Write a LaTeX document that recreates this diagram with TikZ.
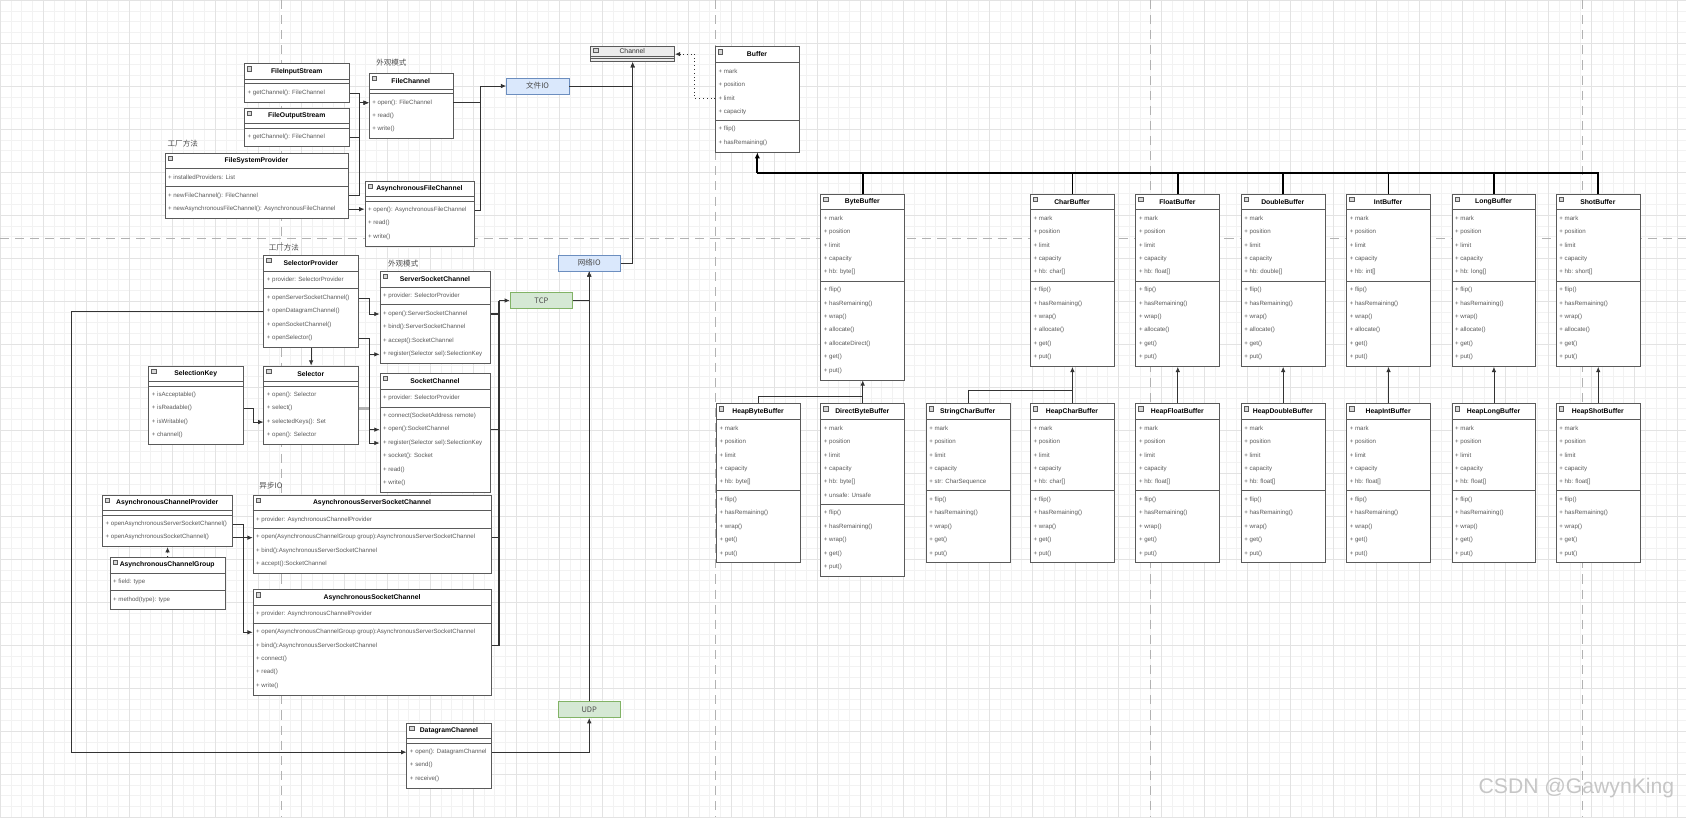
\documentclass[tikz,border=0pt]{standalone}
\usepackage{fontspec}
\setmainfont{Liberation Sans}
\newfontfamily\cjk{Noto Sans CJK SC}
\usetikzlibrary{arrows.meta,calc}
\definecolor{bdr}{RGB}{90,90,90}
\definecolor{blueF}{RGB}{218,232,252}\definecolor{blueD}{RGB}{108,142,191}
\definecolor{greenF}{RGB}{213,232,212}\definecolor{greenD}{RGB}{130,179,102}
\tikzset{
 box/.style={draw=bdr,fill=white,line width=0.5pt,inner sep=0},
 ttl/.style={font=\fontsize{4.5}{5}\selectfont\bfseries,text=black,inner sep=0},
 itm/.style={font=\fontsize{4.05}{5}\selectfont,text=black!65,inner sep=0,anchor=west},
 conn/.style={draw=black!80,line width=0.5pt,-{Latex[length=3.5pt,width=3pt]}},
 ln/.style={draw=black!80,line width=0.5pt},
 inh/.style={draw=black,line width=1.2pt},
 sep/.style={draw=gray!60,dashed,line width=0.6pt,dash pattern=on 6pt off 4pt},
 lbl/.style={font=\cjk\fontsize{5}{6}\selectfont,text=black!70,inner sep=0},
 io/.style={draw=blueD,fill=blueF,minimum width=58*0.25mm,minimum height=15*0.25mm,inner sep=0,font=\cjk\fontsize{5}{6}\selectfont,text=black!70},
 iog/.style={io,draw=greenD,fill=greenF},
}
\def\RH{12.5}
% name, x, y, w, title, nA, attrs, nM, methods
\newcommand\umlbox[9]{%
 \pgfmathsetmacro\yA{#3+15}%
 \pgfmathsetmacro\yB{\yA+4+#6*\RH}%
 \pgfmathsetmacro\yC{\yB+4+#8*\RH}%
 \pgfmathsetmacro\bw{#4*0.25}%
 \pgfmathsetmacro\bh{(\yC-#3)*0.25}%
 \node[box,minimum width=\bw mm,minimum height=\bh mm,anchor=north west] (#1) at (#2,#3) {};
 \draw[bdr,line width=0.5pt] (#2,\yA) -- ++(#4,0) (#2,\yB) -- ++(#4,0);
 \draw[bdr,line width=0.3pt,fill=gray!30] (#2+3,#3+3) rectangle ++(4,4);
 \node[ttl] at (#2+#4/2,#3+7.5) {#5};
 \ifnum#6>0
 \foreach[count=\i] \t in {#7}{%
   \pgfmathsetmacro\yy{\yA+2+(\i-1)*\RH}%
   \node[inner sep=0,minimum width=\bw mm,minimum height=\RH*0.25mm,anchor=north west] (#1-a\i) at (#2,\yy) {};
   \node[itm] at (#2+3,\yy+\RH/2) {+ \t};}
 \fi
 \foreach[count=\i] \t in {#9}{%
   \pgfmathsetmacro\yy{\yB+2+(\i-1)*\RH}%
   \node[inner sep=0,minimum width=\bw mm,minimum height=\RH*0.25mm,anchor=north west] (#1-m\i) at (#2,\yy) {};
   \node[itm] at (#2+3,\yy+\RH/2) {+ \t};}
}
\begin{document}
\begin{tikzpicture}[x=0.25mm,y=-0.25mm]
\useasboundingbox (0,0) rectangle (1568,760);
\fill[white] (0,0) rectangle (1568,760);
\foreach \x in {0,10,...,1560}{\draw[gray!10,line width=0.3pt] (\x,0) -- (\x,760);}
\foreach \y in {0,10,...,760}{\draw[gray!10,line width=0.3pt] (0,\y) -- (1568,\y);}
\foreach \x in {0,40,...,1560}{\draw[gray!22,line width=0.4pt] (\x,0) -- (\x,760);}
\foreach \y in {0,40,...,760}{\draw[gray!22,line width=0.4pt] (0,\y) -- (1568,\y);}
\foreach \x in {262,665,1070,1472}{\draw[sep] (\x,0) -- (\x,760);}
\draw[sep] (0,222) -- (1568,222);

% Channel
\node[box,fill=gray!15,minimum width=78*0.25mm,minimum height=14*0.25mm,anchor=north west] (channel) at (549,43) {};
\draw[bdr,line width=0.4pt] (549,52) -- (627,52) (549,54.5) -- (627,54.5);
\draw[bdr,line width=0.3pt,fill=gray!30] (552,45) rectangle ++(4,4);
\node[ttl,font=\fontsize{4.5}{5}\selectfont,text=black!80] at (588,47.5) {Channel};

\umlbox{Buf}{665}{43}{78}{Buffer}{4}{mark,position,limit,capacity}{2}{flip(),hasRemaining()}

\umlbox{FIS}{227}{59}{98}{FileInputStream}{0}{}{1}{getChannel(): FileChannel}
\umlbox{FOS}{227}{100}{98}{FileOutputStream}{0}{}{1}{getChannel(): FileChannel}
\umlbox{FC}{343}{68}{78}{FileChannel}{0}{}{3}{open(): FileChannel,read(),write()}
\node[lbl] at (364,58) {外观模式};
\node[lbl] at (170,134) {工厂方法};
\umlbox{FSP}{153}{142}{171}{FileSystemProvider}{1}{installedProviders: List}{2}{newFileChannel(): FileChannel,newAsynchronousFileChannel(): AsynchronousFileChannel}
\umlbox{AFC}{339}{168}{102}{AsynchronousFileChannel}{0}{}{3}{open(): AsynchronousFileChannel,read(),write()}
\node[io] (fileio) at (500,80) {文件IO};

\node[lbl] at (264,230) {工厂方法};
\umlbox{SP}{245}{237}{88}{SelectorProvider}{1}{provider: SelectorProvider}{4}{openServerSocketChannel(),openDatagramChannel(),openSocketChannel(),openSelector()}
\node[lbl] at (375,245) {外观模式};
\umlbox{SSC}{353}{252}{103}{ServerSocketChannel}{1}{provider: SelectorProvider}{4}{open():ServerSocketChannel,bind():ServerSocketChannel,accept():SocketChannel,register(Selector sel):SelectionKey}
\node[io] (netio) at (548,244.5) {网络IO};
\node[iog] (tcp) at (503.5,279.5) {TCP};
\umlbox{SK}{138}{340}{88}{SelectionKey}{0}{}{4}{isAcceptable(),isReadable(),isWritable(),channel()}
\umlbox{Sel}{245}{340}{88}{Selector}{0}{}{4}{open(): Selector,select(),selectedKeys(): Set,open(): Selector}
\umlbox{SC}{353}{347}{103}{SocketChannel}{1}{provider: SelectorProvider}{6}{connect(SocketAddress remote),open():SocketChannel,register(Selector sel):SelectionKey,socket(): Socket,read(),write()}
\node[lbl] at (252,452) {异步IO};
\umlbox{ACP}{95}{460}{121}{AsynchronousChannelProvider}{0}{}{2}{openAsynchronousServerSocketChannel(),openAsynchronousSocketChannel()}
\umlbox{ASSC}{235}{460}{222}{AsynchronousServerSocketChannel}{1}{provider: AsynchronousChannelProvider}{3}{open(AsynchronousChannelGroup group):AsynchronousServerSocketChannel,bind():AsynchronousServerSocketChannel,accept():SocketChannel}
\umlbox{ACG}{102}{518}{107}{AsynchronousChannelGroup}{1}{field: type}{1}{method(type): type}
\umlbox{ASC}{235}{548}{222}{AsynchronousSocketChannel}{1}{provider: AsynchronousChannelProvider}{5}{open(AsynchronousChannelGroup group):AsynchronousServerSocketChannel,bind():AsynchronousServerSocketChannel,connect(),read(),write()}
\node[iog] (udp) at (548,660) {UDP};
\umlbox{DC}{378}{672}{79}{DatagramChannel}{0}{}{3}{open(): DatagramChannel,send(),receive()}

% top buffers
\umlbox{BB}{763}{180}{78}{ByteBuffer}{5}{mark,position,limit,capacity,hb: byte[]}{7}{flip(),hasRemaining(),wrap(),allocate(),allocateDirect(),get(),put()}
\umlbox{CB}{958}{180}{78}{CharBuffer}{5}{mark,position,limit,capacity,hb: char[]}{6}{flip(),hasRemaining(),wrap(),allocate(),get(),put()}
\umlbox{FB}{1056}{180}{78}{FloatBuffer}{5}{mark,position,limit,capacity,hb: float[]}{6}{flip(),hasRemaining(),wrap(),allocate(),get(),put()}
\umlbox{DB}{1154}{180}{78}{DoubleBuffer}{5}{mark,position,limit,capacity,hb: double[]}{6}{flip(),hasRemaining(),wrap(),allocate(),get(),put()}
\umlbox{IB}{1252}{180}{78}{IntBuffer}{5}{mark,position,limit,capacity,hb: int[]}{6}{flip(),hasRemaining(),wrap(),allocate(),get(),put()}
\umlbox{LB}{1350}{180}{78}{LongBuffer}{5}{mark,position,limit,capacity,hb: long[]}{6}{flip(),hasRemaining(),wrap(),allocate(),get(),put()}
\umlbox{SB}{1447}{180}{78}{ShotBuffer}{5}{mark,position,limit,capacity,hb: short[]}{6}{flip(),hasRemaining(),wrap(),allocate(),get(),put()}
% bottom buffers
\umlbox{HBB}{666}{375}{78}{HeapByteBuffer}{5}{mark,position,limit,capacity,hb: byte[]}{5}{flip(),hasRemaining(),wrap(),get(),put()}
\umlbox{DBB}{763}{375}{78}{DirectByteBuffer}{6}{mark,position,limit,capacity,hb: byte[],unsafe: Unsafe}{5}{flip(),hasRemaining(),wrap(),get(),put()}
\umlbox{SCB}{861}{375}{78}{StringCharBuffer}{5}{mark,position,limit,capacity,str: CharSequence}{5}{flip(),hasRemaining(),wrap(),get(),put()}
\umlbox{HCB}{958}{375}{78}{HeapCharBuffer}{5}{mark,position,limit,capacity,hb: char[]}{5}{flip(),hasRemaining(),wrap(),get(),put()}
\umlbox{HFB}{1056}{375}{78}{HeapFloatBuffer}{5}{mark,position,limit,capacity,hb: float[]}{5}{flip(),hasRemaining(),wrap(),get(),put()}
\umlbox{HDB}{1154}{375}{78}{HeapDoubleBuffer}{5}{mark,position,limit,capacity,hb: float[]}{5}{flip(),hasRemaining(),wrap(),get(),put()}
\umlbox{HIB}{1252}{375}{78}{HeapIntBuffer}{5}{mark,position,limit,capacity,hb: float[]}{5}{flip(),hasRemaining(),wrap(),get(),put()}
\umlbox{HLB}{1350}{375}{78}{HeapLongBuffer}{5}{mark,position,limit,capacity,hb: float[]}{5}{flip(),hasRemaining(),wrap(),get(),put()}
\umlbox{HSB}{1447}{375}{78}{HeapShotBuffer}{5}{mark,position,limit,capacity,hb: float[]}{5}{flip(),hasRemaining(),wrap(),get(),put()}

% ---- connectors
\draw[conn,dotted,line width=0.6pt] (Buf-a3.west) -- ++(-19,0) |- (channel.east);
\path (Buf.south) ++(0,19) coordinate (bus);
\foreach \b in {BB,CB,FB,DB,IB,LB,SB}{\draw[inh] (\b.north) |- (bus);}
\draw[inh,-{Latex[length=4pt,width=3.5pt]}] (bus) -- (Buf.south);
\path (BB.south) ++(0,15) coordinate (bj1);
\path (CB.south) ++(0,22) coordinate (bj2);
\draw[ln] (HBB.north) |- (bj1);
\draw[conn] (DBB.north) -- (BB.south);
\draw[ln] (SCB.north) |- (bj2);
\draw[conn] (HCB.north) -- (CB.south);
\draw[conn] (HFB.north) -- (FB.south);
\draw[conn] (HDB.north) -- (DB.south);
\draw[conn] (HIB.north) -- (IB.south);
\draw[conn] (HLB.north) -- (LB.south);
\draw[conn] (HSB.north) -- (SB.south);

\draw[conn] (FIS-m1.east) -- ++(9,0) |- (FC-m1.west);
\draw[conn] (FOS-m1.east) -- ++(9,0) |- (FC-m1.west);
\draw[conn] (FSP-m1.east) -- ++(10,0) |- (FC-m1.west);
\draw[conn] (FSP-m2.east) -- (FSP-m2.east -| AFC.west);
\path (FC-m1.east) ++(25,0) coordinate (fj);
\draw[conn] (FC-m1.east) -- (fj) |- (fileio.west);
\draw[ln] (AFC-m1.east) -| (fj);
\draw[conn] (fileio.east) -| (channel.south);
\draw[conn] (netio.east) -| (channel.south);
\draw[conn] (tcp.east) -| (netio.south);
\draw[conn] (udp.north) -- (netio.south);
\draw[conn] (DC-m1.east) -| (udp.south);

\coordinate (tj) at (464,279.5);
\draw[conn,line width=0.8pt] (tj) -- (tcp.west);
\draw[ln,line width=0.8pt] (SSC-m1.east) -| (tj);
\draw[ln,line width=0.8pt] (SC-m2.east) -| (tj);
\draw[ln,line width=0.8pt] (ASSC-m1.east) -| (tj);
\draw[ln,line width=0.8pt] (ASC-m2.east) -| (tj);

\draw[conn] (SP-m1.east) -- ++(10,0) |- (SSC-m1.west);
\path (SP-m4.east) ++(10,0) coordinate (sj);
\draw[ln] (SP-m4.east) -- (sj);
\draw[conn] (sj) |- (SSC-m4.west);
\draw[conn] (sj) |- (SC-m2.west);
\draw[conn] (sj) |- (SC-m3.west);
\draw[gray!60,line width=2pt] (Sel-m2.east) -- (sj |- Sel-m2.east);
\draw[conn] (SP.south) -- (Sel.north);
\draw[conn] (SK-m2.east) -- ++(9,0) |- (Sel-m3.west);
\draw[conn] (SP-m2.west) -- ++(-179,0) |- (DC-m1.west);
\draw[conn] (ACP-m1.east) -- ++(10,0) |- (ASC-m1.west);
\draw[conn] (ACP-m2.east) -- (ACP-m2.east -| ASSC.west);
\draw[conn,dotted,line width=0.7pt] (ACG.north) -- (ACP.south);

\node[font=\fontsize{14}{16}\selectfont,text=gray!45,anchor=east] at (1562,733) {CSDN @GawynKing};
\end{tikzpicture}
\end{document}
